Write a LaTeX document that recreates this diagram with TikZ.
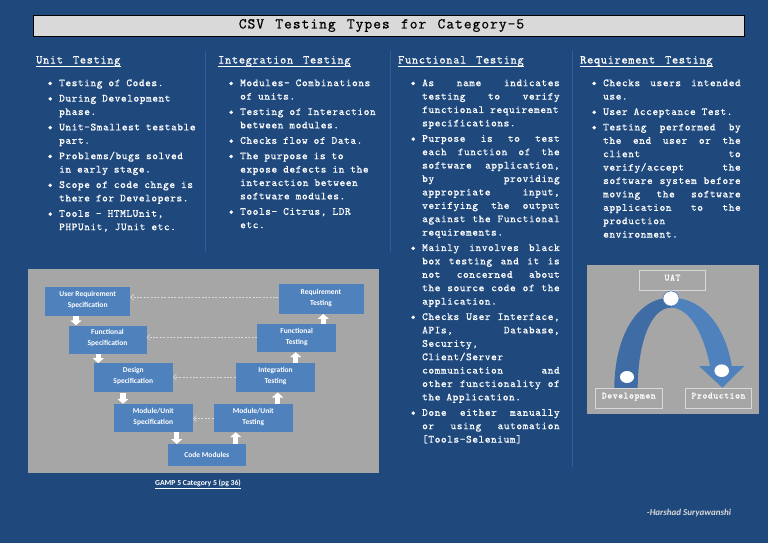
\documentclass[tikz,border=0pt]{standalone}
\usepackage{fontspec}
\usepackage{tikz}
\usetikzlibrary{positioning,calc,arrows.meta}
\newfontfamily\boxfont{Carlito}
\newfontfamily\titlefont[FakeBold=0.7,LetterSpace=6.9,WordSpace=1.29]{Latin Modern Mono}
\newfontfamily\headfont[FakeBold=0.7,LetterSpace=5.8,WordSpace=1.45]{Latin Modern Mono}
\newfontfamily\listfont[FakeBold=0.5,LetterSpace=5.5]{Latin Modern Mono}
\definecolor{pagecol}{HTML}{1F497D}
\definecolor{rulecol}{HTML}{2F5F98}
\definecolor{panelcol}{HTML}{A6A6A6}
\definecolor{boxcol}{HTML}{4F81BD}
\definecolor{archcol}{HTML}{3F6CA4}
\definecolor{titlecol}{HTML}{D9D9D9}
\newcommand{\jl}[1]{\makebox[137.5pt][l]{#1}}
\newcommand{\itm}{\llap{\raisebox{-0.6pt}{\fontsize{13.5}{13.4}\selectfont\textbullet}\hspace{5.5pt}}}
\newcommand{\uatlabel}[1]{\raisebox{0pt}[0pt][0pt]{#1}}
\tikzset{
    testitem/.style={text=white, inner sep=0pt, text width=140pt, align=left, anchor=north west,
        font=\listfont\fontsize{10.8}{13.4}\selectfont,
        execute at begin node={\spaceskip=6pt\relax\strut}, execute at end node=\strut},
    testhead/.style={text=white, inner sep=0pt, anchor=base west,
        font=\headfont\fontsize{12}{15}\selectfont},
    headrule/.style={draw=white, line width=1.4pt},
    vbox/.style={fill=boxcol, text=white, inner sep=0pt, align=center,
        font=\boxfont\bfseries\fontsize{7.5}{11}\selectfont},
    uatbox/.style={draw=titlecol, line width=0.8pt, text=white, inner sep=0pt,
        minimum width=66pt, minimum height=19.6pt,
        font=\listfont\fontsize{9.4}{11}\selectfont},
    blockup/.style={draw=white, line width=5.5pt, -{Triangle[length=5pt,width=11pt]}},
    dashback/.style={draw=titlecol, dash pattern=on 2pt off 1.4pt, line width=0.6pt, -{Straight Barb[length=3pt,width=6pt]}},
    divider/.style={draw=rulecol, line width=0.8pt}
}
\begin{document}
\begin{tikzpicture}[x=1pt, y=-1pt]
    \useasboundingbox (0,0) rectangle (768,543);
    \fill[pagecol] (0,0) rectangle (768,543);

    % Title
    \node [draw=black,
        fill=titlecol,
        line width=0.8pt,
        minimum width=711pt,
        minimum height=21pt,
        inner sep=0pt,
        font=\titlefont\fontsize{15}{17}\selectfont
    ]  (Title) at (388.5,25.5) {CSV Testing Types for Category-5\kern14pt};

    % Dividers
    \coordinate (RuleA) at (205,51);
    \coordinate (RuleB) at (390,51);
    \coordinate (RuleC) at (572,51);
    \draw[divider] (RuleA) -- ++(0,201);
    \draw[divider] (RuleB) -- ++(0,201);
    \draw[divider] (RuleC) -- ++(0,416);

    % Unit testing
    \node [testhead] (UnitHead) at (36,63.5) {Unit Testing};
    \draw[headrule] (UnitHead.south west) -- (UnitHead.south east);
    \node [testitem] (Unit1) at (59,76.6) {\itm Testing of Codes.};
    \node [testitem, below=1.6pt of Unit1.south west, anchor=north west] (Unit2) {\itm During Development\\phase.};
    \node [testitem, below=1.6pt of Unit2.south west, anchor=north west] (Unit3) {\itm Unit-Smallest testable\\part.};
    \node [testitem, below=1.6pt of Unit3.south west, anchor=north west] (Unit4) {\itm Problems/bugs solved\\in early stage.};
    \node [testitem, below=1.6pt of Unit4.south west, anchor=north west] (Unit5) {\itm Scope of code chnge is\\there for Developers.};
    \node [testitem, below=1.6pt of Unit5.south west, anchor=north west] (Unit6) {\itm Tools – HTMLUnit,\\PHPUnit, JUnit etc.};

    % Integration testing
    \node [testhead] (IntegHead) at (218,63.5) {Integration Testing};
    \draw[headrule] (IntegHead.south west) -- (IntegHead.south east);
    \node [testitem] (Integ1) at (240,76.6) {\itm Modules- Combinations\\of units.};
    \node [testitem, below=1.6pt of Integ1.south west, anchor=north west] (Integ2) {\itm Testing of Interaction\\between modules.};
    \node [testitem, below=1.6pt of Integ2.south west, anchor=north west] (Integ3) {\itm Checks flow of Data.};
    \node [testitem, below=1.6pt of Integ3.south west, anchor=north west] (Integ4) {\itm The purpose is to\\expose defects in the\\interaction between\\software modules.};
    \node [testitem, below=1.6pt of Integ4.south west, anchor=north west] (Integ5) {\itm Tools- Citrus, LDR\\etc.};

    % Functional testing
    \node [testhead] (FuncHead) at (398,63.5) {Functional Testing};
    \draw[headrule] (FuncHead.south west) -- (FuncHead.south east);
    \node [testitem] (Func1) at (422,76.6) {\itm\jl{As\hfill name\hfill indicates}\\\jl{testing\hfill to\hfill verify}\\functional requirement\\specifications.};
    \node [testitem, below=1.6pt of Func1.south west, anchor=north west] (Func2) {\itm\jl{Purpose\hfill is\hfill to\hfill test}\\\jl{each\hfill function\hfill of\hfill the}\\\jl{software\hfill application,}\\\jl{by\hfill providing}\\\jl{appropriate\hfill input,}\\\jl{verifying\hfill the\hfill output}\\\jl{against\hfill the\hfill Functional}\\requirements.};
    \node [testitem, below=1.6pt of Func2.south west, anchor=north west] (Func3) {\itm\jl{Mainly\hfill involves\hfill black}\\\jl{box\hfill testing\hfill and\hfill it\hfill is}\\\jl{not\hfill concerned\hfill about}\\\jl{the\hfill source\hfill code\hfill of\hfill the}\\application.};
    \node [testitem, below=1.6pt of Func3.south west, anchor=north west] (Func4) {\itm\jl{Checks\hfill User\hfill Interface,}\\\jl{APIs,\hfill Database,}\\Security,\\Client/Server\\\jl{communication\hfill and}\\\jl{other\hfill functionality\hfill of}\\the Application.};
    \node [testitem, below=1.6pt of Func4.south west, anchor=north west] (Func5) {\itm\jl{Done\hfill either\hfill manually}\\\jl{or\hfill using\hfill automation}\\{[Tools-Selenium]}};

    % Requirement testing
    \node [testhead] (ReqHead) at (580,63.5) {Requirement Testing};
    \draw[headrule] (ReqHead.south west) -- (ReqHead.south east);
    \node [testitem] (Req1) at (603,76.6) {\itm\jl{Checks\hfill users\hfill intended}\\use.};
    \node [testitem, below=1.6pt of Req1.south west, anchor=north west] (Req2) {\itm User Acceptance Test.};
    \node [testitem, below=1.6pt of Req2.south west, anchor=north west] (Req3) {\itm\jl{Testing\hfill performed\hfill by}\\\jl{the\hfill end\hfill user\hfill or\hfill the}\\\jl{client\hfill to}\\\jl{verify/accept\hfill the}\\\jl{software\hfill system\hfill before}\\\jl{moving\hfill the\hfill software}\\\jl{application\hfill to\hfill the}\\production\\environment.};

    % V model
    \fill[panelcol] (28,269) rectangle (379,473);
    \node [vbox, minimum width=85pt, minimum height=29pt] (UserSpec) at (87.7,301.2) {User Requirement\\Specification\\[-7pt]};
    \node [vbox, minimum width=78pt, minimum height=28.5pt] (FuncSpec) at (107.5,339.8) {Functional\\Specification\\[-7pt]};
    \node [vbox, minimum width=79pt, minimum height=29pt] (DesignSpec) at (133.3,377.8) {Design\\Specification\\[-7pt]};
    \node [vbox, minimum width=79pt, minimum height=28pt] (ModSpec) at (153.3,418) {Module/Unit\\Specification\\[-7pt]};
    \node [vbox, minimum width=78.5pt, minimum height=22pt] (CodeMod) at (206.8,455.2) {Code Modules};
    \node [vbox, minimum width=79pt, minimum height=28pt] (ModTest) at (253.3,418) {Module/Unit\\Testing\\[-7pt]};
    \node [vbox, minimum width=79pt, minimum height=29pt] (IntegTest) at (275.5,377.8) {Integration\\Testing\\[-7pt]};
    \node [vbox, minimum width=79pt, minimum height=28pt] (FuncTest) at (296.7,338) {Functional\\Testing\\[-7pt]};
    \node [vbox, minimum width=85pt, minimum height=29.5pt] (ReqTest) at (321,299) {Requirement\\Testing\\[-7pt]};

    \draw[blockup] (UserSpec.south -| 76,0) -- (FuncSpec.north -| 76,0);
    \draw[blockup] (FuncSpec.south -| 98.3,0) -- (DesignSpec.north -| 98.3,0);
    \draw[blockup] (DesignSpec.south -| 123,0) -- (ModSpec.north -| 123,0);
    \draw[blockup] (ModSpec.south -| 176.7,0) -- (CodeMod.north -| 176.7,0);
    \draw[blockup] (CodeMod.north -| 235.7,0) -- (ModTest.south -| 235.7,0);
    \draw[blockup] (ModTest.north -| 277.7,0) -- (IntegTest.south -| 277.7,0);
    \draw[blockup] (IntegTest.north -| 295.7,0) -- (FuncTest.south -| 295.7,0);
    \draw[blockup] (FuncTest.north -| 323.3,0) -- (ReqTest.south -| 323.3,0);

    \draw[dashback] (ReqTest.west |- 0,297.3) -- (UserSpec.east |- 0,297.3);
    \draw[dashback] (FuncTest.west |- 0,337.3) -- (FuncSpec.east |- 0,337.3);
    \draw[dashback] (IntegTest.west |- 0,377) -- (DesignSpec.east |- 0,377);
    \draw[dashback] (ModTest.west |- 0,418.5) -- (ModSpec.east |- 0,418.5);

    \node [text=white, inner sep=0pt, font=\boxfont\bfseries\fontsize{7.7}{9}\selectfont] (GampNote) at (198,484.7) {\underline{GAMP 5 Category 5 (pg 36)}};

    % UAT panel
    \fill[panelcol] (587.3,265) rectangle (759,413.7);
    \fill[archcol] (614.3,388.5) .. controls (614.3,340) and (635,297.7) .. (671,297.7)
        -- (671,307.7) .. controls (650,307.7) and (637.7,345) .. (637.7,388.5) -- cycle;
    \fill[boxcol] (671,297.7) .. controls (705,297.7) and (726,330) .. (731.7,366)
        -- (744.3,366) -- (722.3,387.7) -- (699,366) -- (710,366)
        .. controls (704,335) and (690,307.7) .. (671,307.7) -- cycle;
    \node [uatbox] (UatBox) at (672.5,280.5) {\uatlabel{UAT}};
    \node [uatbox, minimum width=67.5pt] (DevBox) at (628.8,398.5) {\uatlabel{Developmen}};
    \node [uatbox] (ProdBox) at (718.5,398.5) {\uatlabel{Production}};
    \draw[fill=white, draw=boxcol, line width=0.6pt] (671,298.5) ellipse (8pt and 7.5pt);
    \fill[white] (627,377) ellipse (7pt and 6pt);
    \fill[white] (721.7,370.7) ellipse (7.3pt and 6.3pt);

    \node [text=titlecol, inner sep=0pt, font=\boxfont\bfseries\itshape\fontsize{9}{11}\selectfont] (Signature) at (689,513) {-Harshad Suryawanshi};
\end{tikzpicture}
\end{document}
